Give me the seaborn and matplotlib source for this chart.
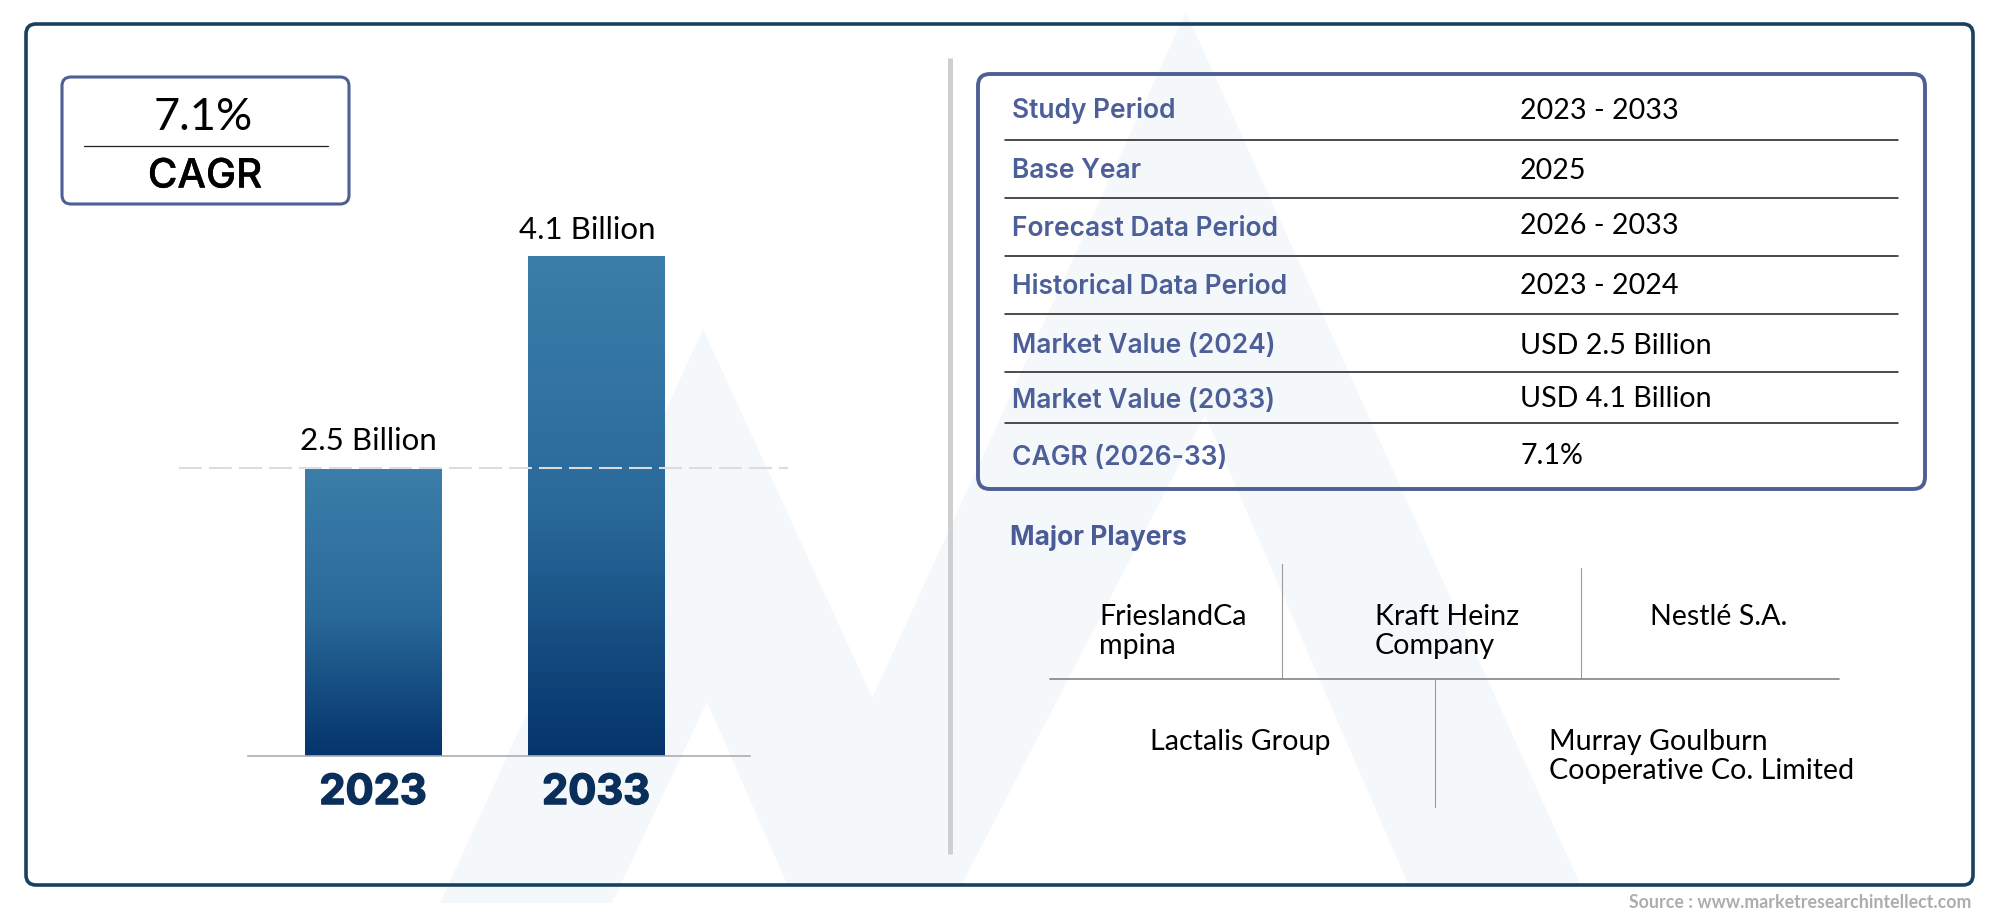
import numpy as np
import pandas as pd
import matplotlib
matplotlib.use("Agg")
import matplotlib.pyplot as plt
import matplotlib.patheffects as pe
from matplotlib.patches import FancyBboxPatch, Polygon
from matplotlib.colors import LinearSegmentedColormap
import seaborn as sns

# ---- data ----
years = ["2023", "2033"]
market_values = [2.5, 4.1]
bar_labels = ["2.5 Billion", "4.1 Billion"]
cagr_value = "7.1%"
cagr_label = "CAGR"
table_labels = ["Study Period", "Base Year", "Forecast Data Period", "Historical Data Period",
                "Market Value (2024)", "Market Value (2033)", "CAGR (2026-33)"]
table_values = ["2023 - 2033", "2025", "2026 - 2033", "2023 - 2024",
                "USD 2.5 Billion", "USD 4.1 Billion", "7.1%"]
players_title = "Major Players"
players_top = ["FrieslandCa\nmpina", "Kraft Heinz\nCompany", "Nestlé S.A."]
players_bottom = ["Lactalis Group", "Murray Goulburn\nCooperative Co. Limited"]
source_text = "Source : www.marketresearchintellect.com"

W, H = 2000, 917
NAVY = "#17415f"
SLATE = "#4e5f93"
LIGHT = "#f5f8fb"
HEAD = "Inter"

sns.set_theme(style="white")
plt.rcParams["font.family"] = ["Lato", "DejaVu Sans"]

fig = plt.figure(figsize=(W / 100, H / 100), dpi=100, facecolor="white")


def pixel_axes(left, top, right, bottom, z):
    return fig.add_axes([left / W, 1 - bottom / H, (right - left) / W, (bottom - top) / H], zorder=z)


# background layer: watermark
bg = pixel_axes(0, 0, W, H, 0)
bg.set_xlim(0, W)
bg.set_ylim(H, 0)
bg.axis("off")
bg.add_patch(Polygon([(703, 329), (440, 903), (612, 903), (707, 702), (787, 884), (958, 884)], fc=LIGHT, ec="none"))
bg.add_patch(Polygon([(1186, 12), (787, 884), (962, 884), (1205, 415), (1408, 884), (1580, 884)], fc=LIGHT, ec="none"))

# chart layer
ax = pixel_axes(150, 200, 800, 756, 1)
ax.patch.set_alpha(0)
df = pd.DataFrame({"year": years, "value": market_values})
sns.barplot(data=df, x="year", y="value", ax=ax, width=0.61, color="#1f5a8c", saturation=1)
ax.set_xlim(-1.0, 1.915)
ax.set_ylim(0.351, 4.528)
grad = LinearSegmentedColormap.from_list("bar", ["#3b7ea9", "#2a6a9b", "#04346b"])
for patch in ax.patches:
    x0, w, h = patch.get_x(), patch.get_width(), patch.get_height()
    patch.set_visible(False)
    ax.imshow(np.linspace(0, 1, 256).reshape(-1, 1), cmap=grad, aspect="auto",
              extent=[x0, x0 + w, 0.351, h], zorder=2)
ax.set_xlim(-1.0, 1.915)
ax.set_ylim(0.351, 4.528)
ax.hlines(market_values[0] + 0.012, -0.87, 1.86, colors="#dcdcdc", lw=1.5, linestyles=(0, (11, 3.4)), zorder=3)
for spine in ["top", "left", "right"]:
    ax.spines[spine].set_visible(False)
ax.spines["bottom"].set_color("#a9adb3")
ax.spines["bottom"].set_linewidth(1.2)
ax.spines["bottom"].set_bounds(-0.56, 1.69)
ax.set_xlabel("")
ax.set_ylabel("")
ax.set_yticks([])
ax.tick_params(axis="x", length=0, pad=13)
for t in ax.get_xticklabels():
    t.set_fontfamily(HEAD)
    t.set_fontweight("bold")
    t.set_fontsize(30)
    t.set_color("#0b2f5b")
    t.set_path_effects([pe.withStroke(linewidth=1.0, foreground="#0b2f5b")])
for i, (v, lab) in enumerate(zip(market_values, bar_labels)):
    ax.annotate(lab, (i, v), xytext=(-3 - 3 * i, 11 - 2 * i), textcoords="offset points", ha="center", va="bottom",
                fontsize=22.5, color="black")

# overlay layer
ov = pixel_axes(0, 0, W, H, 2)
ov.set_xlim(0, W)
ov.set_ylim(H, 0)
ov.axis("off")


def rbox(x0, y0, x1, y1, color, lw, r):
    ov.add_patch(FancyBboxPatch((x0, y0), x1 - x0, y1 - y0, boxstyle=f"round,pad=0,rounding_size={r}",
                                fc="none", ec=color, lw=lw))


rbox(26, 24, 1973, 885, NAVY, 2.6, 10)
rbox(62, 77, 349, 204, SLATE, 2.2, 9)
ov.plot([84, 328], [146, 146], color="#222222", lw=0.9)
ov.text(203, 117, cagr_value, ha="center", va="center", fontsize=32.5, color="black")
ov.text(205, 177, cagr_label, ha="center", va="center", fontsize=29, color="black", family=HEAD, weight="medium",
        path_effects=[pe.withStroke(linewidth=0.3, foreground="black")])

ov.plot([950, 950], [58, 854], color="#cfcfcf", lw=3.6, solid_capstyle="butt")

rbox(978, 74, 1925, 489, SLATE, 2.8, 12)
rule_ys = [140, 198, 256, 314, 372, 423]
for y in rule_ys:
    ov.plot([1005, 1898], [y, y], color="#1a1a1a", lw=1.1)
label_ys = [111, 171, 229, 287, 346, 401, 458]
value_ys = [111, 171, 226, 286, 346, 399, 456]
for lab, val, ly, vy in zip(table_labels, table_values, label_ys, value_ys):
    ov.text(1012, ly, lab, ha="left", va="center", fontsize=19, color="#4d5f99", family=HEAD, weight="semibold")
    ov.text(1520, vy, val, ha="left", va="center", fontsize=20.6, color="black")

ov.text(1010, 538, players_title, ha="left", va="center", fontsize=19, color="#4a5b98", family=HEAD, weight="bold")
for x, y0, y1 in [(1282, 564, 678), (1581, 568, 678), (1435, 680, 807)]:
    ov.plot([x, x], [y0, y1], color="#9a9a9a", lw=0.8)
ov.plot([1050, 1839], [679, 679], color="#8c8c8c", lw=1.3)

for name, x in zip(players_top, [1099, 1375, 1650]):
    ov.text(x, 604, name, ha="left", va="top", fontsize=20.6, color="black", linespacing=1.15)
for name, x in zip(players_bottom, [1150, 1549]):
    ov.text(x, 729, name, ha="left", va="top", fontsize=20.6, color="black", linespacing=1.15)

ov.text(1971, 902, source_text, ha="right", va="center", fontsize=12.8, color="#adadad", weight="bold")

fig.savefig("out.png", dpi=100, facecolor="white")
